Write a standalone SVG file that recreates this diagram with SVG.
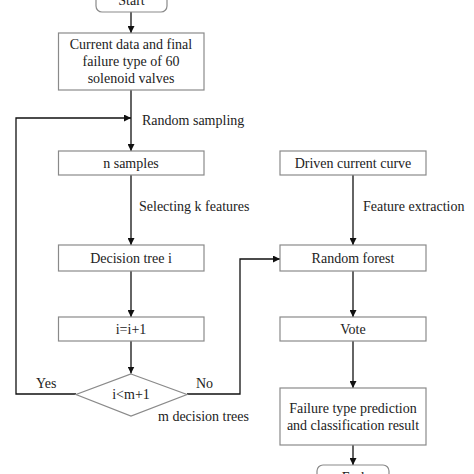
<svg xmlns="http://www.w3.org/2000/svg" width="474" height="474" viewBox="0 0 474 474">
<defs>
<marker id="ah" viewBox="0 0 10 10" refX="10" refY="5" markerWidth="7" markerHeight="7" markerUnits="userSpaceOnUse" orient="auto">
<path d="M0,0 L10,5 L0,10 z" fill="#111"/>
</marker>
<style>
.box{fill:#fff;stroke:#8a8a8a;stroke-width:1.2}
.t{font-family:"Liberation Serif","Times New Roman",serif;font-size:14px;fill:#222}
.c{text-anchor:middle}
.ln{fill:none;stroke:#111;stroke-width:1.3}
</style>
</defs>
<rect width="474" height="474" fill="#fff"/>
<g id="connectors">
<path class="ln" d="M131,12 V33" marker-end="url(#ah)"/>
<path class="ln" d="M131,90 V151" marker-end="url(#ah)"/>
<path class="ln" d="M76,394 H16 V118 H131" marker-end="url(#ah)"/>
<path class="ln" d="M131,175 V245" marker-end="url(#ah)"/>
<path class="ln" d="M131,271 V317" marker-end="url(#ah)"/>
<path class="ln" d="M131,341 V373.5" marker-end="url(#ah)"/>
<path class="ln" d="M187,394 H240 V259 H280" marker-end="url(#ah)"/>
<path class="ln" d="M353,175 V245" marker-end="url(#ah)"/>
<path class="ln" d="M353,271 V317" marker-end="url(#ah)"/>
<path class="ln" d="M353,341 V388" marker-end="url(#ah)"/>
<path class="ln" d="M353,445 V465" marker-end="url(#ah)"/>
<text class="t" x="142" y="125">Random sampling</text>
<text class="t" x="139" y="211">Selecting k features</text>
<text class="t" x="363" y="211">Feature extraction</text>
<text class="t" x="36" y="388">Yes</text>
<text class="t" x="196" y="388">No</text>
<text class="t" x="158" y="421">m decision trees</text>
</g>
<g id="start">
<rect class="box" x="96" y="-14" width="71" height="26" rx="6"/>
<text class="t c" x="131.5" y="5">Start</text>
</g>
<g id="data">
<rect class="box" x="58.5" y="33" width="145.5" height="57"/>
<text class="t c" x="131" y="49">Current data and final</text>
<text class="t c" x="131" y="66">failure type of 60</text>
<text class="t c" x="131" y="83">solenoid valves</text>
</g>
<g id="nsamples">
<rect class="box" x="58.5" y="151" width="145.5" height="24"/>
<text class="t c" x="131" y="168">n samples</text>
</g>
<g id="driven">
<rect class="box" x="280" y="151" width="146" height="24"/>
<text class="t c" x="353" y="168">Driven current curve</text>
</g>
<g id="tree">
<rect class="box" x="58.5" y="245" width="145.5" height="26"/>
<text class="t c" x="131" y="263">Decision tree i</text>
</g>
<g id="forest">
<rect class="box" x="280" y="245" width="146" height="26"/>
<text class="t c" x="353" y="263">Random forest</text>
</g>
<g id="inc">
<rect class="box" x="58.5" y="317" width="145.5" height="24"/>
<text class="t c" x="131" y="334">i=i+1</text>
</g>
<g id="vote">
<rect class="box" x="280" y="317" width="146" height="24"/>
<text class="t c" x="353" y="334">Vote</text>
</g>
<g id="cond">
<polygon class="box" points="131,374 187,394.5 131,416 76,394.5"/>
<text class="t c" x="131" y="399">i&lt;m+1</text>
</g>
<g id="result">
<rect class="box" x="280" y="388" width="146" height="57"/>
<text class="t c" x="353" y="413">Failure type prediction</text>
<text class="t c" x="353" y="430">and classification result</text>
</g>
<g id="end">
<rect class="box" x="317" y="465" width="72" height="26" rx="6"/>
<text class="t c" x="353" y="482">End</text>
</g>
</svg>
